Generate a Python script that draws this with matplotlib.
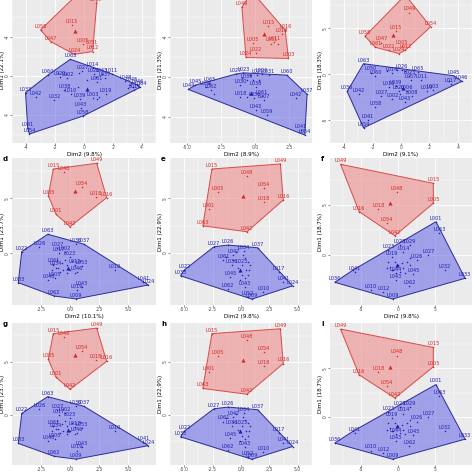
import matplotlib.pyplot as plt
from matplotlib.patches import Polygon
from matplotlib.colors import to_rgba

plt.rcParams['font.family'] = 'DejaVu Sans'

# ---- panel a (Dim1 axis runs downward) ----
A_RED = [("L049", 0.81, -7.5), ("", -0.3, -8.6), ("L058", -3.02, -4.72), ("L047", -2.30, -3.52),
         ("L015", -0.85, -5.23), ("L005", -0.06, -3.25), ("L051", 0.5, -3.08), ("L012", 0.6, -2.5),
         ("L024", -0.68, -2.22), ("", 0.95, -8.6)]
A_RED_MEAN = (-0.64, -4.62)
A_BLUE = [("L063", -0.95, -1.71), ("L033", -4.06, 1.71), ("L054", -3.79, 5.95), ("L041", -3.91, 5.37),
          ("L058", -0.06, 4.1), ("L064", 3.91, 1.16), ("L046", 3.7, 0.92), ("L045", 3.29, 0.69),
          ("L017", 3.5, 1.44), ("L048", 2.88, 0.51), ("L011", 1.95, -0.2), ("L014", 0.6, -0.79),
          ("L027", -0.12, -0.54), ("L021", 0.7, -0.2), ("L065", 1.22, -0.2), ("L061", 0.91, 0.58),
          ("L037", 1.43, 0.24), ("L060", -2.5, -0.1), ("L029", -1.68, 0.14), ("L002", -1.16, 0.24),
          ("L038", -1.37, 1.44), ("L010", -0.89, 1.88), ("L042", -3.34, 2.18), ("L032", -2.05, 2.46),
          ("L039", -0.27, 2.39), ("L003", 0.6, 2.29), ("", 0.91, 2.36), ("L019", 1.53, 1.88),
          ("L043", -0.23, 3.32), ("", -1.78, -0.27), ("", -1.22, -0.2), ("", -0.33, -0.27),
          ("", 0.81, 0.14), ("", 0.19, 0.41), ("", -0.43, 1.09), ("", 1.01, 2.12),
          ("", 3.19, 0.92), ("", 3.4, 1.16), ("", 3.09, 1.26)]
A_BLUE_MEAN = (0.19, 1.37)

# ---- panel b (Dim1 axis runs downward) ----
B_RED = [("L049", -0.96, -7.0), ("", -0.2, -8.5), ("L015", 0.98, -5.07), ("L016", 2.23, -4.67),
         ("L018", 2.0, -4.33), ("L011", 1.44, -3.5), ("", 1.67, -3.33), ("L051", 1.21, -3.33),
         ("L022", 0.07, -2.34), ("L005", -0.16, -3.37), ("L024", -0.66, -1.94), ("L003", 2.47, -1.84)]
B_RED_MEAN = (0.64, -4.34)
B_BLUE = [("L044", -4.91, 1.26), ("L045", -4.38, 0.83), ("L065", -3.36, 0.6), ("L050", -3.59, 1.06),
          ("L062", -3.25, 1.33), ("", -3.02, 1.73), ("L027", -1.42, -0.27), ("L023", -0.85, -0.4),
          ("L060", 2.35, -0.17), ("L037", 3.84, 1.76), ("L054", 3.67, 5.83), ("L041", 3.38, 5.33),
          ("L042", 2.99, 2.16), ("L059", 0.86, 3.83), ("L043", 0.07, 3.33), ("L030", -1.08, 0.83),
          ("L039", -0.62, 0.33), ("L038", 0.07, 1.06), ("L061", 0.52, 1.93), ("L007", 0.64, 2.33),
          ("L018", -1.08, 2.0), ("", -0.62, 2.0), ("L036", -0.05, 2.16), ("L021", 0.18, -0.17),
          ("L026", 0.52, -0.27), ("L031", 1.0, -0.2), ("", -0.39, -0.17), ("", -0.96, 0.07),
          ("", 0.3, 0.33), ("", -0.16, 0.33)]
B_BLUE_MEAN = (-0.27, 1.6)

# ---- panel c ----
C_RED = [("L049", 0.59, 6.7), ("", 0.3, 8.6), ("L054", 2.09, 5.15), ("L058", -2.54, 4.12),
         ("L015", -0.35, 4.64), ("L047", -1.39, 3.43), ("L061", -1.81, 2.92), ("L022", -0.88, 2.58),
         ("L024", -0.14, 2.23), ("L005", 0.06, 3.09), ("L012", 0.3, 2.6)]
C_RED_MEAN = (-0.56, 4.23)
C_BLUE = [("L063", -2.64, 1.13), ("L036", -3.79, -1.89), ("L054", -2.64, -5.85), ("L041", -2.35, -4.99),
          ("L046", 4.29, -0.79), ("L045", 3.71, -0.18), ("L017", 3.5, -1.13), ("", 3.4, -0.79),
          ("L065", 1.21, 0.24), ("L011", 1.42, -0.69), ("L023", 0.59, -0.18), ("L057", 0.69, -0.69),
          ("L014", -0.66, 0.1), ("L026", 0.06, 0.4), ("L060", -1.81, -0.18), ("L050", -2.14, 0.17),
          ("L042", -2.96, -2.16), ("L027", -1.39, -2.41), ("L002", -0.62, -2.75), ("L058", -1.81, -3.61),
          ("L043", 0.27, -3.09), ("L008", 0.79, -2.41), ("L020", -0.14, -1.89), ("L039", -0.35, -1.33),
          ("L010", -0.87, -1.44), ("L019", 1.84, -1.89), ("L003", 2.25, -1.69), ("L006", 0.4, -1.89),
          ("", -0.04, -2.2), ("", -0.3, 0.4), ("", -1.0, 0.35), ("", 0.3, 0.3)]
C_BLUE_MEAN = (0.17, -1.55)

# ---- panels d and g ----
D_RED = [("L015", -1.44, 7.66), ("L048", -0.52, 7.36), ("L049", 2.3, 8.18), ("L016", 3.16, 5.05),
         ("L018", 2.24, 5.15), ("L054", 1.01, 6.05), ("L005", -1.87, 5.24), ("L001", -1.21, 3.55),
         ("L042", 0.0, 2.42)]
D_RED_MEAN = (0.43, 5.66)
D_BLUE = [("L063", -1.92, 1.73), ("L022", -4.16, 0.15), ("L033", -4.46, -2.67), ("L062", -1.38, -3.88),
          ("L009", 0.52, -4.15), ("L024", 6.75, -2.88), ("L041", 6.32, -2.58), ("L010", 3.88, -1.52),
          ("L037", 1.21, 0.82), ("L036", 0.52, 0.82), ("L026", -2.65, 0.6), ("L027", -1.09, 0.45),
          ("L002", -0.43, 0.15), ("L017", -0.95, 0.0), ("L023", 0.0, -0.31), ("L061", -1.44, -1.0),
          ("L034", -1.2, -1.3), ("L053", 1.01, -1.2), ("L012", 0.43, -1.1), ("L046", 0.6, -1.67),
          ("L048", -1.87, -2.43), ("L005", -1.29, -2.27), ("L019", 0.6, -3.34), ("L043", 1.01, -3.03),
          ("", -0.28, -1.06), ("", -0.57, -1.52), ("", -0.86, -1.67), ("", -1.15, -0.6),
          ("", -1.44, -1.06), ("", -0.28, -1.82), ("", 0.14, -0.72), ("", -0.72, -0.88),
          ("", -0.43, -0.6), ("", 0.86, -0.69), ("", -1.0, -1.3), ("", -1.58, -1.52),
          ("", 0.0, -1.52), ("", 0.43, -1.82)]
D_BLUE_MEAN = (-0.15, -1.36)

# ---- panels e and h ----
E_RED = [("L015", -2.56, 7.7), ("L049", 3.47, 8.16), ("L048", 0.53, 7.08), ("L054", 2.03, 5.92),
         ("L005", -2.06, 5.56), ("L018", 2.03, 4.64), ("L016", 3.72, 4.85), ("L001", -2.81, 4.02),
         ("L063", -3.36, 2.48), ("L042", 0.53, 1.93)]
E_RED_MEAN = (0.15, 5.22)
E_BLUE = [("L027", -2.38, 0.55), ("L037", 1.46, 0.46), ("L033", -5.32, -2.12), ("L022", -5.0, -1.59),
          ("L009", 0.96, -4.26), ("L052", 0.58, -4.05), ("L024", 4.55, -3.04), ("L041", 3.72, -2.67),
          ("L017", 3.35, -1.75), ("L010", 1.96, -3.59), ("L043", 0.33, -3.13), ("L062", -1.13, -3.34),
          ("L045", -0.93, -2.21), ("L026", -1.13, 0.71), ("L034", 0.23, 0.17), ("L061", -1.55, -0.67),
          ("L047", -0.68, -0.21), ("L036", -0.8, -1.1), ("L023", 0.08, -1.1),
          ("", 0.33, -0.52), ("", 0.58, -0.83), ("", 0.83, -1.13), ("", 0.08, -2.05),
          ("", 0.33, -2.36), ("", 0.58, -2.05), ("", -0.05, -2.51), ("", 0.45, -1.59),
          ("", 0.71, -1.59), ("", -0.3, -1.44), ("", -0.68, -0.67), ("", -1.3, -0.36),
          ("", -0.43, 0.09), ("", 0.2, -0.21)]
E_BLUE_MEAN = (-0.1, -1.59)

# ---- panels f and i ----
F_RED = [("L049", -7.78, 9.07), ("L015", 4.73, 7.17), ("L005", 4.73, 5.17), ("L048", -0.22, 6.33),
         ("L018", -2.7, 4.6), ("L016", -5.27, 4.33), ("L054", -1.57, 3.17), ("L042", -0.45, 1.93)]
F_RED_MEAN = (-1.12, 5.17)
F_BLUE = [("L001", 5.09, 3.33), ("L063", 5.54, 2.17), ("L033", 9.01, -2.33), ("L032", 6.31, -1.5),
          ("L027", 4.05, 0.0), ("L009", -0.76, -4.4), ("L012", -2.03, -3.73), ("L010", -3.73, -3.5),
          ("L036", -8.55, -2.73), ("L041", -5.85, -1.67), ("", -6.08, -1.5), ("L023", -1.35, 0.5),
          ("L028", 0.23, 1.0), ("L029", 1.58, 1.0), ("L014", 0.68, 0.33), ("L019", -0.9, -0.17),
          ("L026", 2.49, -0.5), ("L044", -0.31, -1.83), ("L045", 2.03, -1.93), ("L043", -0.31, -2.5),
          ("L062", 1.49, -3.07), ("", -1.35, -0.67), ("", -1.12, -1.17), ("", -0.68, -1.5),
          ("", 0.0, -1.0), ("", 0.45, -0.83), ("", 1.13, -0.67), ("", 1.58, -1.0),
          ("", 0.68, -1.33), ("", 0.23, -1.67), ("", -0.45, -0.67), ("", -0.9, -1.5),
          ("", -1.57, -1.33), ("", 0.9, -1.83), ("", 1.58, -0.33)]
F_BLUE_MEAN = (-0.2, -1.0)

XLABELS = ["Dim2 (9.8%)", "Dim2 (8.9%)", "Dim2 (9.1%)", "Dim2 (10.1%)", "Dim2 (9.8%)", "Dim2 (9.8%)",
           "Dim2 (10.1%)", "Dim2 (9.8%)", "Dim2 (9.8%)"]
YLABELS = ["Dim1 (22.1%)", "Dim1 (21.3%)", "Dim1 (18.3%)", "Dim1 (23.7%)", "Dim1 (22.9%)", "Dim1 (18.7%)",
           "Dim1 (23.7%)", "Dim1 (22.9%)", "Dim1 (18.7%)"]
LETTERS = ["a", "b", "c", "d", "e", "f", "g", "h", "i"]

RED_FILL, RED_EDGE, RED_DOT = "#EE7C7C", "#D94A4A", "#D62828"
BLUE_FILL, BLUE_EDGE, BLUE_DOT = "#5C5CE6", "#2A2A9A", "#1F1FB4"

W = H = 474
COLS = [(12, 156), (170, 312), (330, 472)]
ROWS = [(-4, 143), (158, 305), (323, 465)]


def convex_hull(points):
    pts = sorted(set(points))
    if len(pts) < 3:
        return pts

    def cross(o, a, b):
        return (a[0] - o[0]) * (b[1] - o[1]) - (a[1] - o[1]) * (b[0] - o[0])

    lower, upper = [], []
    for p in pts:
        while len(lower) >= 2 and cross(lower[-2], lower[-1], p) <= 0:
            lower.pop()
        lower.append(p)
    for p in reversed(pts):
        while len(upper) >= 2 and cross(upper[-2], upper[-1], p) <= 0:
            upper.pop()
        upper.append(p)
    return lower[:-1] + upper[:-1]


def draw_group(ax, pts, mean, fill, edge, dot):
    hull = convex_hull([(x, y) for _, x, y in pts])
    ax.add_patch(Polygon(hull, closed=True, facecolor=to_rgba(fill, 0.52),
                         edgecolor=edge, lw=0.7, zorder=2))
    ax.scatter([x for _, x, _ in pts], [y for _, _, y in pts], s=1.2, color=dot,
               linewidths=0, zorder=3)
    for name, x, y in pts:
        if name:
            ax.annotate(name, (x, y), xytext=(0, 0.8), textcoords="offset points",
                        ha="center", va="bottom", fontsize=3.6, color=dot, zorder=4)
    ax.scatter([mean[0]], [mean[1]], marker="^", s=9, color=dot, linewidths=0, zorder=5)


PANELS = [
    (A_RED, A_RED_MEAN, A_BLUE, A_BLUE_MEAN, (-4.66, 4.29), (6.87, -8.2), [-4, -2, 0, 2, 4], ["-4", "-2", "0", "2", "4"], [-4, 0, 4], ["-4", "0", "4"]),
    (B_RED, B_RED_MEAN, B_BLUE, B_BLUE_MEAN, (-5.53, 4.2), (6.63, -8.1), [-5, -2.5, 0, 2.5], ["-5.0", "-2.5", "0.0", "2.5"], [-4, 0, 4], ["-4", "0", "4"]),
    (C_RED, C_RED_MEAN, C_BLUE, C_BLUE_MEAN, (-4.2, 4.7), (-6.67, 8.5), [-4, -2, 0, 2, 4], ["-4", "-2", "0", "2", "4"], [-5, 0, 5], ["-5", "0", "5"]),
    (D_RED, D_RED_MEAN, D_BLUE, D_BLUE_MEAN, (-5.0, 7.41), (-4.7, 8.66), [-2.5, 0, 2.5, 5], ["-2.5", "0.0", "2.5", "5.0"], [0, 5], ["0", "5"]),
    (E_RED, E_RED_MEAN, E_BLUE, E_BLUE_MEAN, (-5.83, 5.05), (-4.8, 8.71), [-5, -2.5, 0, 2.5, 5], ["-5.0", "-2.5", "0.0", "2.5", "5.0"], [0, 5], ["0", "5"]),
    (F_RED, F_RED_MEAN, F_BLUE, F_BLUE_MEAN, (-9.2, 9.95), (-5.0, 9.7), [-5, 0, 5], ["-5", "0", "5"], [0, 5], ["0", "5"]),
    (D_RED, D_RED_MEAN, D_BLUE, D_BLUE_MEAN, (-5.0, 7.41), (-4.7, 8.66), [-2.5, 0, 2.5, 5], ["-2.5", "0.0", "2.5", "5.0"], [0, 5], ["0", "5"]),
    (E_RED, E_RED_MEAN, E_BLUE, E_BLUE_MEAN, (-5.83, 5.05), (-4.8, 8.71), [-5, -2.5, 0, 2.5, 5], ["-5.0", "-2.5", "0.0", "2.5", "5.0"], [0, 5], ["0", "5"]),
    (F_RED, F_RED_MEAN, F_BLUE, F_BLUE_MEAN, (-9.2, 9.95), (-5.0, 9.7), [-5, 0, 5], ["-5", "0", "5"], [0, 5], ["0", "5"]),
]

fig = plt.figure(figsize=(W / 100, H / 100), dpi=100)

for i, (red, red_mean, blue, blue_mean, xlim, ylim, xt, xtl, yt, ytl) in enumerate(PANELS):
    x0, x1 = COLS[i % 3]
    y0, y1 = ROWS[i // 3]
    ax = fig.add_axes([x0 / W, 1 - y1 / H, (x1 - x0) / W, (y1 - y0) / H])
    ax.set_facecolor("#EBEBEB")
    for s in ax.spines.values():
        s.set_visible(False)

    draw_group(ax, red, red_mean, RED_FILL, RED_EDGE, RED_DOT)
    draw_group(ax, blue, blue_mean, BLUE_FILL, BLUE_EDGE, BLUE_DOT)

    ax.set_xlim(*xlim)
    ax.set_ylim(*ylim)
    ax.set_xticks(xt)
    ax.set_xticklabels(xtl)
    ax.set_yticks(yt)
    ax.set_yticklabels(ytl, rotation=90, va="center")
    # minor gridlines halfway between the majors
    step_x = xt[1] - xt[0]
    step_y = yt[1] - yt[0]
    ax.set_xticks([v + step_x / 2 for v in [xt[0] - step_x] + xt], minor=True)
    ax.set_yticks([v + step_y / 2 for v in [yt[0] - step_y] + yt], minor=True)
    ax.grid(True, which="major", color="white", lw=0.6, zorder=0)
    ax.grid(True, which="minor", color="white", lw=0.3, zorder=0)
    ax.set_axisbelow(True)
    ax.tick_params(which="major", length=1.2, width=0.4, color="#333333", labelsize=3.3,
                   labelcolor="#4D4D4D", pad=0.5)
    ax.tick_params(which="minor", length=0)
    ax.set_xlabel(XLABELS[i], fontsize=4.1, labelpad=1.2)
    ax.set_ylabel(YLABELS[i], fontsize=4.0)
    # keep the y label just inside the left edge of the picture
    ax.yaxis.set_label_coords(-7.0 / (x1 - x0), 0.5)

    if i >= 3:
        fig.text((x0 - 9) / W, 1 - (y0 + 1) / H, LETTERS[i], fontsize=5, fontweight="bold", va="center")

fig.savefig("out.png", dpi=100)
